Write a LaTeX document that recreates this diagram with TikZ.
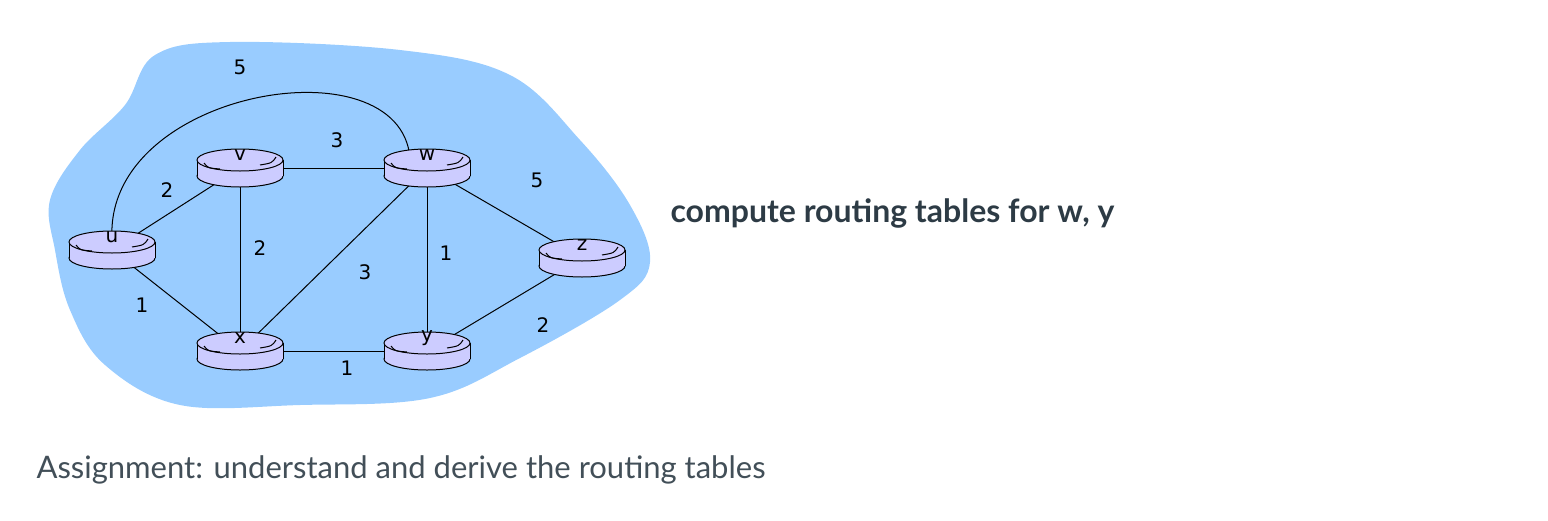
\documentclass[tikz,border=0pt]{standalone}
\usepackage{fontspec}
\setmainfont{Lato}
\newfontfamily\netfont{DejaVu Sans}
\definecolor{blob}{HTML}{99CCFF}
\definecolor{rfill}{HTML}{CCCCFF}
\definecolor{txt}{HTML}{2D3B45}
\begin{document}
\begin{tikzpicture}[x=1pt,y=-1pt,
  link/.style={draw=black,line width=1pt},
  wlabel/.style={font=\netfont\fontsize{20}{20}\selectfont},
  rlabel/.style={font=\netfont\fontsize{20}{20}\selectfont}]
\useasboundingbox (0,0) rectangle (1548,520);
\newcommand\myrouter[3]{%
  \path[fill=rfill,draw=black,line width=1pt] (#1,#2+8) ellipse[x radius=43,y radius=11];
  \fill[rfill] (#1-43,#2-8) rectangle (#1+43,#2+8);
  \draw[line width=1pt] (#1-43,#2-8) -- (#1-43,#2+8) (#1+43,#2-8) -- (#1+43,#2+8);
  \path[fill=rfill,draw=black,line width=1pt] (#1,#2-8) ellipse[x radius=43,y radius=11];
  \draw[line width=1pt] (#1-36,#2-5) .. controls (#1-32,#2) .. (#1-20,#2+1);
  \draw[line width=1pt] (#1+36,#2-11) .. controls (#1+32,#2-5) .. (#1+20,#2-3);
  \node[rlabel,anchor=center] at (#1,#2-13) {#3};}
\fill[blob] plot[smooth cycle,tension=0.6] coordinates {(50,200) (80,150) (125,105) (155,55) (230,42) (400,50) (510,75) (580,140) (630,205) (650,262) (620,300) (520,358) (430,398) (300,405) (180,405) (105,365) (70,310) (55,250)};
\coordinate (u) at (112,250);
\coordinate (v) at (240,168);
\coordinate (w) at (427,168);
\coordinate (x) at (240,351);
\coordinate (y) at (427,351);
\coordinate (z) at (582,258);
\coordinate (ut) at (112,238);
\coordinate (wt) at (410,158);
\draw[link] (ut) .. controls (105,90) and (400,40) .. (wt);
\draw[link] (u) -- (v);
\draw[link] (u) -- (x);
\draw[link] (v) -- (w);
\draw[link] (v) -- (x);
\draw[link] (w) -- (x);
\draw[link] (w) -- (y);
\draw[link] (w) -- (z);
\draw[link] (x) -- (y);
\draw[link] (y) -- (z);
\myrouter{112}{250}{u}
\myrouter{240}{168}{v}
\myrouter{427}{168}{w}
\myrouter{240}{351}{x}
\myrouter{427}{351}{y}
\myrouter{582}{258}{z}
\node[wlabel] (l1) at (240,67) {5};
\node[wlabel] (l2) at (337,140) {3};
\node[wlabel] (l3) at (537,180) {5};
\node[wlabel] (l4) at (167,190) {2};
\node[wlabel] (l5) at (260,248) {2};
\node[wlabel] (l6) at (365,272) {3};
\node[wlabel] (l7) at (446,253) {1};
\node[wlabel] (l8) at (142,305) {1};
\node[wlabel] (l9) at (347,368) {1};
\node[wlabel] (l10) at (543,325) {2};
\node[anchor=west,text=txt,font=\bfseries\fontsize{32}{32}\selectfont] (t1) at (667,213) {compute routing tables for w, y};
\node[anchor=west,text=txt!90,font=\fontsize{31}{31}\selectfont] (t2) at (33,470) {Assignment: understand and derive the routing tables};
\end{tikzpicture}
\end{document}
